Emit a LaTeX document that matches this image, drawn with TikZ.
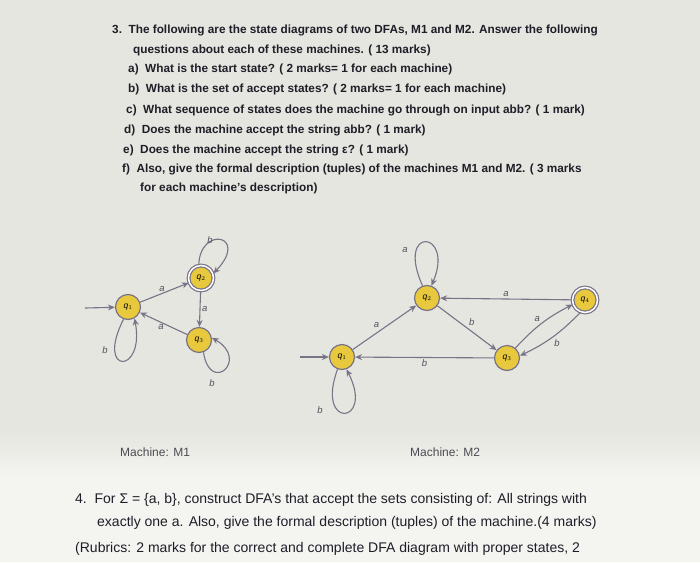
\documentclass[tikz,border=0pt]{standalone}
\usepackage{fontspec}
\setmainfont{Liberation Sans}
\usetikzlibrary{arrows.meta}
\definecolor{bg}{RGB}{230,230,224}
\definecolor{bgl}{RGB}{244,244,241}
\definecolor{stfill}{RGB}{232,200,60}
\definecolor{edge}{RGB}{120,115,135}
\definecolor{txt}{RGB}{30,30,40}
\begin{document}
\begin{tikzpicture}[x=1pt,y=-1pt,
  st/.style={circle,draw=edge,fill=stfill,line width=1.2pt,minimum size=25pt,inner sep=0pt,font=\fontsize{8.5}{9}\selectfont\itshape},
  acc/.style={st,double=white,double distance=1.5pt},
  tr/.style={draw=edge,line width=1.1pt,-{Stealth[length=7pt,width=6pt]}},
  lb/.style={font=\fontsize{9.5}{10}\selectfont\itshape,text=edge!70!black,inner sep=1.5pt},
  q/.style={anchor=west,font=\fontsize{11.8}{13}\selectfont\bfseries,text=txt,inner sep=0pt},
  b4/.style={anchor=west,font=\fontsize{14}{16}\selectfont,text=txt,inner sep=0pt},
  mach/.style={anchor=west,font=\fontsize{12}{13}\selectfont,text=txt!80,inner sep=0pt}]
\useasboundingbox (0,0) rectangle (700,562);
\fill[bg] (0,0) rectangle (700,430);
\shade[top color=bg,bottom color=bgl] (0,430) rectangle (700,480);
\fill[bgl] (0,480) rectangle (700,562);
\node[q] (t1) at (112,30) {3.\ \ The following are the state diagrams of two DFAs, M1 and M2. Answer the following};
\node[q] (t2) at (133,50) {questions about each of these machines. ( 13 marks)};
\node[q] (t3) at (128,69) {a)\ \ What is the start state? ( 2 marks= 1 for each machine)};
\node[q] (t4) at (128,89) {b)\ \ What is the set of accept states? ( 2 marks= 1 for each machine)};
\node[q] (t5) at (126,110) {c)\ \ What sequence of states does the machine go through on input abb? ( 1 mark)};
\node[q] (t6) at (124,130) {d)\ \ Does the machine accept the string abb? ( 1 mark)};
\node[q] (t7) at (123,150) {e)\ \ Does the machine accept the string ε? ( 1 mark)};
\node[q] (t8) at (122,169) {f)\ \ Also, give the formal description (tuples) of the machines M1 and M2. ( 3 marks};
\node[q] (t9) at (140,188) {for each machine's description)};
% M1
\node[st] (a1) at (128,307) {q$_1$};
\node[acc] (a2) at (201,278) {q$_2$};
\node[st] (a3) at (199,340) {q$_3$};
\coordinate (s1) at (85,308);
\draw[tr] (s1) -- (a1);
\draw[tr] (a1) -- node[lb,above,pos=0.45]{a} (a2);
\draw[tr] (a2) -- node[lb,right]{a} (a3);
\draw[tr] (a3) -- node[lb,below,pos=0.55]{a} (a1);
\draw[tr] (a2.100) .. controls (200,225) and (250,235) .. (a2.20);
\node[lb] (l1) at (210,240) {b};
\draw[tr] (a1.250) .. controls (95,375) and (145,375) .. (a1.300);
\node[lb] (l2) at (105,350) {b};
\draw[tr] (a3.290) .. controls (210,395) and (250,360) .. (a3.10);
\node[lb] (l3) at (212,383) {b};
\node[mach] (m1) at (120,452) {Machine: M1};
% M2
\node[st] (b1) at (342,357) {q$_1$};
\node[st] (b2) at (427,298) {q$_2$};
\node[st] (b3) at (507,358) {q$_3$};
\node[acc] (b4) at (585,300) {q$_4$};
\coordinate (s2) at (300,357);
\draw[tr] (s2) -- (b1);
\draw[tr] (b1) -- node[lb,above left,pos=0.45]{a} (b2);
\draw[tr] (b2) -- node[lb,above right,pos=0.5]{b} (b3);
\draw[tr] (b4) -- node[lb,above]{a} (b2);
\draw[tr] (b3) -- node[lb,below]{b} (b1);
\draw[tr] (b3.50) to[bend left=10] node[lb,above left]{a} (b4.200);
\draw[tr] (b4.250) to[bend left=10] node[lb,below right]{b} (b3.10);
\draw[tr] (b2.110) .. controls (395,225) and (455,230) .. (b2.70);
\node[lb] (l4) at (405,250) {a};
\draw[tr] (b1.250) .. controls (315,430) and (375,425) .. (b1.290);
\node[lb] (l5) at (320,410) {b};
\node[mach] (m2) at (410,452) {Machine: M2};
% question 4
\node[b4] (u1) at (75,500) {4.\ \ For Σ = \{a, b\}, construct DFA's that accept the sets consisting of: All strings with};
\node[b4] (u2) at (97,523) {exactly one a. Also, give the formal description (tuples) of the machine.(4 marks)};
\node[b4] (u3) at (75,549) {(Rubrics: 2 marks for the correct and complete DFA diagram with proper states, 2};
\end{tikzpicture}
\end{document}
